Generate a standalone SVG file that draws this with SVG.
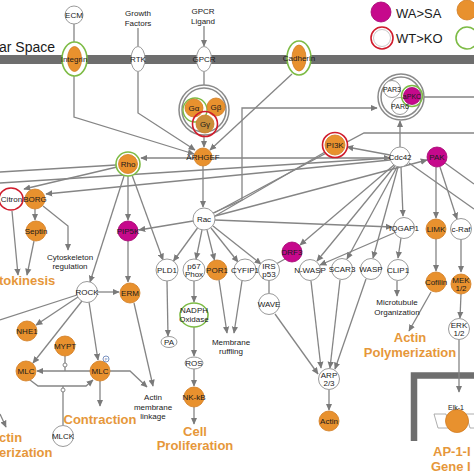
<svg xmlns="http://www.w3.org/2000/svg" width="474" height="474" viewBox="0 0 474 474">
<defs>
<marker id="ah" viewBox="0 0 10 10" refX="9" refY="5" markerWidth="7" markerHeight="7" orient="auto" markerUnits="userSpaceOnUse"><path d="M0,0.5 L10,5 L0,9.5 z" fill="#7a7a7a"/></marker>
</defs>
<style>
.ln{fill:none;stroke:#858585;stroke-width:1.3}
.ar{marker-end:url(#ah)}
.w{fill:#fff;stroke:#9a9a9a;stroke-width:1}
.o{fill:#E8912E;stroke:#D27C22;stroke-width:0.8}
.m{fill:#C6098C;stroke:#A3006F;stroke-width:0.8}
.gr{fill:#fff;stroke:#7DBB45;stroke-width:1.6}
.rr{fill:#fff;stroke:#D01C2C;stroke-width:1.6}
.cx{fill:#fff;stroke:#8a8a8a;stroke-width:1.5}
text{font-family:"Liberation Sans",Arial,sans-serif}
.t{font-size:8px;fill:#1a1a1a;text-anchor:middle}
.s{font-size:7px;fill:#1a1a1a;text-anchor:middle}
.f{font-size:13px;font-weight:bold;fill:#E6973A;text-anchor:middle}
.fl{font-size:13px;font-weight:bold;fill:#E6973A}
.lg{font-size:13px;fill:#1a1a1a}
</style>
<rect width="474" height="474" fill="#fff"/>
<g id="membrane"><rect x="0" y="55" width="474" height="9" fill="#6e6e6e"/><text x="-1" y="52" font-size="14" fill="#1a1a1a">ar Space</text></g>
<g id="nucleus"><path d="M414,441V375.5H474" fill="none" stroke="#6e6e6e" stroke-width="6.5"/></g>
<g id="legend">
<circle cx="381" cy="12" r="10" class="m"/><text class="lg" x="396" y="18">WA&gt;SA</text>
<circle cx="467" cy="10" r="10" class="o"/>
<circle cx="382" cy="38" r="11" class="rr" stroke-width="2"/><circle cx="382" cy="38" r="8.5" fill="none" stroke="#bbb" stroke-width="0.8"/><text class="lg" x="396" y="43">WT&gt;KO</text>
<circle cx="467" cy="38" r="11" class="gr" stroke-width="2"/>
</g>
<g id="connectors">
<path class="ln" d="M74,24V42"/>
<path class="ln" d="M138,28V46"/>
<path class="ln ar" d="M204,26V46"/>
<path class="ln" d="M204,72V85"/>
<path class="ln ar" d="M204,135V147"/>
<path class="ln ar" d="M74,76V117L194,154"/>
<path class="ln ar" d="M138,72V113L195,150"/>
<path class="ln ar" d="M292,74L210,150"/>
<path class="ln ar" d="M194,158H141"/>
<path class="ln ar" d="M212,158H390"/>
<path class="ln ar" d="M203,166V207"/>
<path class="ln ar" d="M213,213L242,200V108H377"/>
<path class="ln ar" d="M400,147V121"/>
<path class="ln ar" d="M390,155L347,147"/>
<path class="ln" d="M214,213L364,133H474"/>
<path class="ln" d="M215,216L325,152"/>
<path class="ln ar" d="M215,216L427,160"/>
<path class="ln ar" d="M215,220L392,227"/>
<path class="ln ar" d="M193,221L139,230"/>
<path class="ln ar" d="M197.5,228L173.5,261"/>
<path class="ln ar" d="M202,230L196,259"/>
<path class="ln ar" d="M207,230L214.5,260"/>
<path class="ln ar" d="M211,228L238,262"/>
<path class="ln ar" d="M213,226L261,264"/>
<path class="ln ar" d="M128,176V220"/>
<path class="ln ar" d="M124,176L90,282"/>
<path class="ln ar" d="M132,175L163,260"/>
<path class="ln ar" d="M117,167L24,189"/>
<path class="ln" d="M116,165L0,172"/>
<path class="ln" d="M390,158L0,183"/>
<path class="ln ar" d="M390,160L46,194"/>
<path class="ln ar" d="M35,209V220"/>
<path class="ln ar" d="M43,206L68,226V250"/>
<path class="ln ar" d="M12,211L18,275"/>
<path class="ln ar" d="M34,241L27,275"/>
<path class="ln ar" d="M128,241V282"/>
<path class="ln ar" d="M97,292H119"/>
<path class="ln ar" d="M78,297L36,325"/>
<path class="ln" d="M77,295L0,320"/>
<path class="ln ar" d="M82,301L33,363"/>
<path class="ln ar" d="M89,302L98,360"/>
<path class="ln ar" d="M90,371H37"/>
<path class="ln" d="M65,356V371"/>
<circle cx="65" cy="365" r="2" fill="#fff" stroke="#858585" stroke-width="1"/>
<path class="ln ar" d="M30,380L38,386H86L93,380"/>
<path class="ln" d="M63,425V386"/>
<circle cx="63" cy="390" r="2" fill="#fff" stroke="#858585" stroke-width="1"/>
<path class="ln ar" d="M100,381V406"/>
<path class="ln ar" d="M110,371H130L147,387"/>
<path class="ln ar" d="M134,303L153,386"/>
<path class="ln ar" d="M0,414L6,427"/>
<path class="ln ar" d="M167,281L168,336"/>
<path class="ln ar" d="M194,281V302"/>
<path class="ln ar" d="M194,327V356"/>
<path class="ln ar" d="M194,369V386"/>
<path class="ln ar" d="M194,407V424"/>
<path class="ln ar" d="M219,280L227,333"/>
<path class="ln ar" d="M242,281L234,333"/>
<path class="ln" d="M269,280V293"/>
<path class="ln" d="M285,259L276,264"/>
<path class="ln ar" d="M275,314L318,374"/>
<path class="ln ar" d="M311,281L321,368"/>
<path class="ln ar" d="M340,280L330,368"/>
<path class="ln ar" d="M366,279L335,369"/>
<path class="ln ar" d="M329,390V410"/>
<path class="ln ar" d="M401,167L403,216"/>
<path class="ln ar" d="M394,165L300,245"/>
<path class="ln ar" d="M395,166L317,261"/>
<path class="ln ar" d="M397,167L347,259"/>
<path class="ln ar" d="M398,167L373,258"/>
<path class="ln ar" d="M394,233L320,265"/>
<path class="ln ar" d="M401,238L398,258"/>
<path class="ln ar" d="M397,281V296"/>
<path class="ln ar" d="M436,167V218"/>
<path class="ln ar" d="M440,167L457,219"/>
<path class="ln ar" d="M436,239V271"/>
<path class="ln ar" d="M461,239V272"/>
<path class="ln ar" d="M461,294L460,318"/>
<path class="ln ar" d="M431,292L409,331"/>
<path class="ln ar" d="M459,339V392"/>
<path class="ln" d="M421,97H474"/>
<path class="ln" d="M445,163L474,184"/>
<path class="ln" d="M409,163L474,209"/>
</g>
<g id="n-ecm"><circle cx="74" cy="15" r="9" class="w"/><text class="t" x="74" y="18">ECM</text></g>
<g id="n-growth"><text class="t" x="138" y="16">Growth</text><text class="t" x="138" y="26">Factors</text></g>
<g id="n-ligand"><text class="t" x="203" y="14">GPCR</text><text class="t" x="203" y="24">Ligand</text></g>
<g id="n-integrin"><ellipse cx="74.5" cy="59" rx="12.5" ry="17" class="gr"/><ellipse cx="74.5" cy="59" rx="7" ry="12.5" class="o"/><text class="t" x="74" y="62">Integrin</text></g>
<g id="n-rtk"><ellipse cx="138" cy="59" rx="7" ry="12.5" class="w"/><text class="t" x="138" y="62">RTK</text></g>
<g id="n-gpcr"><ellipse cx="204" cy="59" rx="7.5" ry="12.5" class="w"/><text class="t" x="204" y="62">GPCR</text></g>
<g id="n-cadherin"><ellipse cx="299" cy="58" rx="12" ry="17" class="gr"/><ellipse cx="299" cy="58" rx="7" ry="13" class="o"/><text class="t" x="299" y="61">Cadherin</text></g>
<g id="n-gprotein">
<circle cx="204" cy="110" r="25" class="cx"/><circle cx="204" cy="110" r="22" fill="none" stroke="#8a8a8a" stroke-width="1.5"/>
<circle cx="195" cy="110" r="12" fill="none" stroke="#7DBB45" stroke-width="1.4"/>
<circle cx="194" cy="108" r="9" class="o"/><circle cx="216" cy="107" r="9" class="o"/>
<circle cx="205" cy="124" r="12.5" fill="none" stroke="#D01C2C" stroke-width="1.6"/>
<circle cx="205" cy="124" r="9" fill="#C98F3A" stroke="#D27C22" stroke-width="0.8"/>
<text class="t" x="194" y="111">Gα</text><text class="t" x="216" y="110">Gβ</text><text class="t" x="205" y="127">Gγ</text>
</g>
<g id="n-arhgef"><circle cx="203" cy="157" r="9" class="o"/><text class="t" x="203" y="160">ARHGEF</text></g>
<g id="n-par">
<circle cx="401" cy="97" r="23" class="cx"/><circle cx="401" cy="97" r="20" fill="none" stroke="#8a8a8a" stroke-width="1.5"/>
<circle cx="392" cy="89" r="8.5" class="w"/><circle cx="400" cy="106" r="8.5" class="w"/>
<circle cx="412" cy="96" r="10.5" fill="none" stroke="#7DBB45" stroke-width="1.4"/><circle cx="412" cy="96" r="8.5" class="m"/>
<text class="s" x="392" y="92">PAR3</text><text class="s" x="400" y="109">PAR6</text><text class="s" x="412" y="99">aPKC</text>
</g>
<g id="n-rho"><circle cx="128" cy="164" r="12" class="gr"/><circle cx="128" cy="164" r="9.5" class="o"/><text class="t" x="128" y="167">Rho</text></g>
<g id="n-citron"><ellipse cx="11" cy="199" rx="12" ry="11" class="rr"/><text class="t" x="11.5" y="202">Citron</text></g>
<g id="n-borg"><circle cx="35" cy="199" r="10" class="o"/><text class="t" x="35" y="202">BORG</text></g>
<g id="n-septin"><circle cx="36" cy="231" r="10" class="o"/><text class="t" x="36" y="234">Septin</text></g>
<g id="n-cytoreg"><text class="t" x="70" y="260">Cytoskeleton</text><text class="t" x="70" y="269">regulation</text></g>
<g id="n-cytokinesis"><text class="fl" x="-1" y="285">tokinesis</text></g>
<g id="n-pip5k"><circle cx="128" cy="231" r="10" class="m"/><text class="t" x="128" y="234">PIP5K</text></g>
<g id="n-rock"><circle cx="87" cy="292" r="10.5" class="w"/><text class="t" x="87" y="295">ROCK</text></g>
<g id="n-erm"><circle cx="130" cy="293" r="10" class="o"/><text class="t" x="130" y="296">ERM</text></g>
<g id="n-nhe1"><circle cx="27" cy="331" r="10" class="o"/><text class="t" x="27" y="334">NHE1</text></g>
<g id="n-mypt"><circle cx="65" cy="346" r="10" class="o"/><text class="t" x="65" y="349">MYPT</text></g>
<g id="n-mlc1"><circle cx="26" cy="371" r="10" class="o"/><text class="t" x="26" y="374">MLC</text></g>
<g id="n-mlc2"><circle cx="100" cy="371" r="10" class="o"/><text class="t" x="100" y="374">MLC</text><circle cx="106" cy="359" r="3" fill="#fff" stroke="#5a78b0" stroke-width="0.8"/><text x="106" y="360.5" font-size="4" text-anchor="middle" fill="#5a78b0">P</text></g>
<g id="n-mlck"><circle cx="63" cy="436" r="10.5" class="w"/><text class="t" x="63" y="439">MLCK</text></g>
<g id="n-contraction"><text class="f" x="100" y="424">Contraction</text></g>
<g id="n-actinpolyleft"><text class="fl" x="-1" y="442">ctin</text><text class="fl" x="-1" y="457">erization</text></g>
<g id="n-aml"><text class="t" x="153" y="400">Actin</text><text class="t" x="153" y="410">membrane</text><text class="t" x="153" y="419">linkage</text></g>
<g id="n-rac"><circle cx="204" cy="219" r="11" class="w"/><text class="t" x="204" y="222">Rac</text></g>
<g id="n-pld1"><circle cx="167" cy="270" r="11" class="w"/><text class="t" x="167" y="273">PLD1</text></g>
<g id="n-p67"><circle cx="194" cy="270" r="11" class="w"/><text class="t" x="194" y="269">p67</text><text class="t" x="194" y="277">Phox</text></g>
<g id="n-por1"><circle cx="217" cy="270" r="10" class="o"/><text class="t" x="217" y="273">POR1</text></g>
<g id="n-cyfip1"><circle cx="245" cy="270" r="11" class="w"/><text class="t" x="245" y="273">CYFIP1</text></g>
<g id="n-irsp53"><circle cx="269" cy="270" r="10.5" class="w"/><text class="t" x="269" y="269">IRS</text><text class="t" x="269" y="277">p53</text></g>
<g id="n-drf3"><circle cx="292" cy="252" r="10" class="m"/><text class="t" x="292" y="255">DRF3</text></g>
<g id="n-nwasp"><circle cx="310" cy="270" r="10.5" class="w"/><text class="t" x="310" y="273">N-WASP</text></g>
<g id="n-scar3"><circle cx="342" cy="269" r="10.5" class="w"/><text class="t" x="342" y="272">SCAR3</text></g>
<g id="n-wasp"><circle cx="371" cy="269" r="10.5" class="w"/><text class="t" x="371" y="272">WASP</text></g>
<g id="n-clip1"><circle cx="398" cy="270" r="10.5" class="w"/><text class="t" x="398" y="273">CLIP1</text></g>
<g id="n-micro"><text class="t" x="397" y="305">Microtubule</text><text class="t" x="397" y="315">Organization</text></g>
<g id="n-iqgap1"><circle cx="404" cy="228" r="10.5" class="w"/><text class="t" x="404" y="231">IQGAP1</text></g>
<g id="n-cdc42"><circle cx="400" cy="157" r="10" class="w"/><text class="t" x="400" y="160">Cdc42</text></g>
<g id="n-pi3k"><circle cx="335" cy="145" r="12.5" class="rr"/><circle cx="335" cy="145" r="10" class="o"/><text class="t" x="335" y="148">PI3K</text></g>
<g id="n-pak"><circle cx="437" cy="157" r="10" class="m"/><text class="t" x="437" y="160">PAK</text></g>
<g id="n-limk"><circle cx="436" cy="229" r="10" class="o"/><text class="t" x="436" y="232">LIMK</text></g>
<g id="n-craf"><circle cx="461" cy="229" r="10.5" class="w"/><text class="t" x="461" y="232">c-Raf</text></g>
<g id="n-cofilin"><circle cx="436" cy="282" r="10" class="o"/><text class="t" x="436" y="285">Cofilin</text></g>
<g id="n-mek"><circle cx="461" cy="284" r="10" class="o"/><text class="t" x="461" y="283">MEK</text><text class="t" x="461" y="291">1/2</text></g>
<g id="n-erk"><circle cx="459" cy="329" r="10.5" class="w"/><text class="t" x="459" y="328">ERK</text><text class="t" x="459" y="336">1/2</text></g>
<g id="n-actinpoly"><text class="f" x="410" y="342">Actin</text><text class="f" x="410" y="357">Polymerization</text></g>
<g id="n-pa"><ellipse cx="169" cy="342" rx="8" ry="5.5" class="w"/><text class="t" x="169" y="345">PA</text></g>
<g id="n-nadph"><ellipse cx="194" cy="315" rx="14" ry="12" class="gr"/><text class="t" x="194" y="313">NADPH</text><text class="t" x="194" y="322">Oxidase</text></g>
<g id="n-ros"><ellipse cx="194" cy="363" rx="9" ry="6" class="w"/><text class="t" x="194" y="366">ROS</text></g>
<g id="n-nfkb"><circle cx="194" cy="397" r="10" class="o"/><text class="t" x="194" y="400">NK-kB</text></g>
<g id="n-cellprolif"><text class="f" x="195" y="436">Cell</text><text class="f" x="195" y="450">Proliferation</text></g>
<g id="n-ruffling"><text class="t" x="231" y="345">Membrane</text><text class="t" x="231" y="354">ruffling</text></g>
<g id="n-wave"><circle cx="269" cy="304" r="10.5" class="w"/><text class="t" x="269" y="307">WAVE</text></g>
<g id="n-arp23"><circle cx="329" cy="379" r="10.5" class="w"/><text class="t" x="329" y="378">ARP</text><text class="t" x="329" y="386">2/3</text></g>
<g id="n-actin"><circle cx="329" cy="421" r="10" class="o"/><text class="t" x="329" y="424">Actin</text></g>
<g id="n-elk1">
<polygon points="434,414 446,414 450,428 438,428" fill="#fff" stroke="#999" stroke-width="0.8"/>
<polygon points="466,414 478,414 482,428 470,428" fill="#fff" stroke="#999" stroke-width="0.8"/>
<circle cx="457" cy="421" r="11.5" class="o"/><text class="s" x="456" y="410">Elk-1</text>
</g>
<g id="n-ap1"><text class="fl" x="433" y="456" font-size="14">AP-1-I</text><text class="fl" x="431" y="471" font-size="14">Gene I</text></g>
</svg>
